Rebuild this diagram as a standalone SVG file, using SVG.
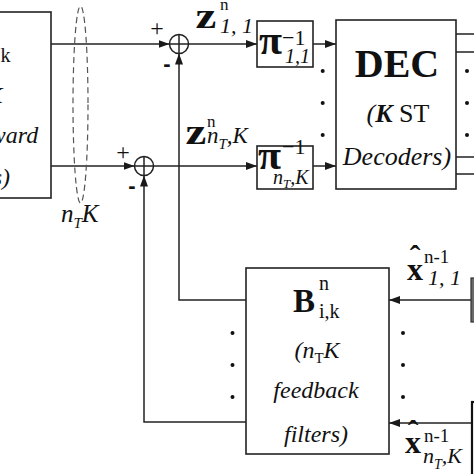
<svg xmlns="http://www.w3.org/2000/svg" width="474" height="474" viewBox="0 0 474 474">
<defs>
<marker id="ah" viewBox="0 0 11 8" refX="11" refY="4" markerWidth="11" markerHeight="8" markerUnits="userSpaceOnUse" orient="auto">
<path d="M0,0 L11,4 L0,8 Z" fill="#1a1a1a"/>
</marker>
<style>
.box{fill:#fff;stroke:#222;stroke-width:1.6}
.ln{fill:none;stroke:#222;stroke-width:1.5}
.arr{fill:none;stroke:#222;stroke-width:1.5;marker-end:url(#ah)}
.dot{fill:#111}
.t{font-family:"Liberation Serif","Times New Roman",serif;fill:#111}
.it{font-style:italic}
.b{font-weight:bold}
</style>
</defs>
<rect width="474" height="474" fill="#fff"/>

<g id="connectors">
<path class="arr" d="M51,44 H169.5"/>
<path class="arr" d="M51,166 H134.5"/>
<path class="arr" d="M188.5,44 H257"/>
<path class="arr" d="M153.5,166 H257"/>
<path class="arr" d="M313,44 H336"/>
<path class="arr" d="M313,166 H336"/>
<path class="arr" d="M246,300 H179 V53.5"/>
<path class="arr" d="M246,422 H144 V175.5"/>
<path class="arr" d="M471,300 H389"/>
<path class="arr" d="M471,423 H389"/>
<path class="ln" d="M456,34 H474 M456,52 H474 M456,157 H474 M456,174 H474"/>
</g>

<g id="feedforward">
<rect class="box" x="-92" y="12" width="143" height="186"/>
<text class="t b" x="-36" y="56" font-size="33">F</text>
<text class="t" x="-10" y="62" font-size="20">i,k</text>
<text class="t" x="-14" y="40" font-size="18">n</text>
<text class="t it" x="-20" y="103" font-size="24" text-anchor="middle">(n<tspan font-style="normal" font-size="15" dy="5">T</tspan><tspan dy="-5">K</tspan></text>
<text class="t it" x="-20" y="143" font-size="24" text-anchor="middle">feedforward</text>
<text class="t it" x="-22" y="185" font-size="24" text-anchor="middle">filters)</text>
</g>

<g id="bundle">
<ellipse cx="80.5" cy="104.5" rx="7.5" ry="98.5" fill="none" stroke="#555" stroke-width="1.2" stroke-dasharray="6,4"/>
<text class="t it" x="61" y="222" font-size="25">n<tspan font-size="15" dy="6">T</tspan><tspan dy="-6">K</tspan></text>
</g>

<g id="sum1">
<circle cx="179" cy="44" r="9.5" fill="#fff" stroke="#222" stroke-width="1.5"/>
<path class="ln" d="M169.5,44 H188.5 M179,34.5 V53.5"/>
<text class="t" x="157" y="36" font-size="24" text-anchor="middle">+</text>
<text class="t b" x="167" y="71" font-size="22" text-anchor="middle" style="font-family:'Liberation Sans',Arial,sans-serif">-</text>
</g>

<g id="sum2">
<circle cx="144" cy="166" r="9.5" fill="#fff" stroke="#222" stroke-width="1.5"/>
<path class="ln" d="M134.5,166 H153.5 M144,156.5 V175.5"/>
<text class="t" x="123" y="160" font-size="24" text-anchor="middle">+</text>
<text class="t b" x="132" y="193" font-size="22" text-anchor="middle" style="font-family:'Liberation Sans',Arial,sans-serif">-</text>
</g>

<g id="label-z1">
<text class="t b" transform="translate(195.5,27.5) scale(1.3,1)" x="0" y="0" font-size="36">z</text>
<text class="t" x="220" y="10" font-size="17">n</text>
<text class="t it" x="220" y="33" font-size="22">1, 1</text>
</g>

<g id="label-z2">
<text class="t b" transform="translate(185.5,143.5) scale(1.3,1)" x="0" y="0" font-size="36">z</text>
<text class="t" x="207" y="127" font-size="17">n</text>
<text class="t it" x="207" y="143" font-size="23">n<tspan font-size="15" dy="6">T</tspan><tspan dy="-6">,K</tspan></text>
</g>

<g id="deinterleaver1">
<rect class="box" x="257" y="21" width="56" height="46"/>
<text class="t b" x="259" y="54" font-size="42">π</text>
<text class="t" x="282" y="45" font-size="22">−1</text>
<text class="t it" x="285" y="63" font-size="20">1,1</text>
</g>

<g id="deinterleaver2">
<rect class="box" x="257" y="146" width="56" height="43"/>
<text class="t b" x="258" y="169" font-size="42">π</text>
<text class="t" x="282" y="154" font-size="22">−1</text>
<text class="t it" x="273" y="184" font-size="20">n<tspan font-size="13" dy="4">T</tspan><tspan dy="-4">,K</tspan></text>
</g>

<g id="dots-mid">
<circle class="dot" cx="322.7" cy="71" r="2"/>
<circle class="dot" cx="322.7" cy="103" r="2"/>
<circle class="dot" cx="322.7" cy="135" r="2"/>
<circle class="dot" cx="467" cy="71" r="2"/>
<circle class="dot" cx="467" cy="103" r="2"/>
<circle class="dot" cx="467" cy="135" r="2"/>
</g>

<g id="dec">
<rect class="box" x="336" y="20" width="120" height="169"/>
<text class="t b" x="397" y="77" font-size="40" text-anchor="middle">DEC</text>
<text class="t" x="398" y="122" font-size="26" text-anchor="middle"><tspan font-style="italic">(</tspan><tspan font-style="italic" font-weight="bold">K</tspan> ST</text>
<text class="t it" x="397" y="165" font-size="26" text-anchor="middle">Decoders)</text>
</g>

<g id="feedback">
<rect class="box" x="246" y="268" width="143" height="186"/>
<text class="t b" x="293" y="312" font-size="33">B</text>
<text class="t" x="319" y="290" font-size="20">n</text>
<text class="t" x="319" y="318" font-size="20">i,k</text>
<text class="t it" x="317" y="358" font-size="24" text-anchor="middle">(n<tspan font-style="normal" font-size="15" dy="5">T</tspan><tspan dy="-5">K</tspan></text>
<text class="t it" x="316" y="398" font-size="24" text-anchor="middle">feedback</text>
<text class="t it" x="316" y="442" font-size="24" text-anchor="middle">filters)</text>
</g>

<g id="dots-b">
<circle class="dot" cx="232.5" cy="333" r="2"/>
<circle class="dot" cx="232.5" cy="365" r="2"/>
<circle class="dot" cx="232.5" cy="397" r="2"/>
<circle class="dot" cx="403" cy="333" r="2"/>
<circle class="dot" cx="403" cy="365" r="2"/>
<circle class="dot" cx="403" cy="397" r="2"/>
</g>

<g id="label-x1">
<text class="t b" x="407" y="280" font-size="32">x</text>
<text class="t b" x="415" y="267" font-size="32" text-anchor="middle">ˆ</text>
<text class="t" x="424" y="263" font-size="19">n-1</text>
<text class="t it" x="428" y="285" font-size="22">1, 1</text>
</g>

<g id="label-x2">
<text class="t b" x="405" y="453" font-size="32">x</text>
<text class="t b" x="413" y="442" font-size="32" text-anchor="middle">ˆ</text>
<text class="t" x="424" y="442" font-size="19">n-1</text>
<text class="t it" x="423" y="463" font-size="22">n<tspan font-size="14" dy="6">T</tspan><tspan dy="-6">,K</tspan></text>
</g>

<g id="source1">
<rect x="471" y="278" width="12" height="44" fill="#6a6a6a" stroke="#333" stroke-width="1.2"/>
</g>
<g id="source2">
<rect x="472" y="402" width="12" height="80" fill="#fff" stroke="#111" stroke-width="2.2"/>
</g>
</svg>
